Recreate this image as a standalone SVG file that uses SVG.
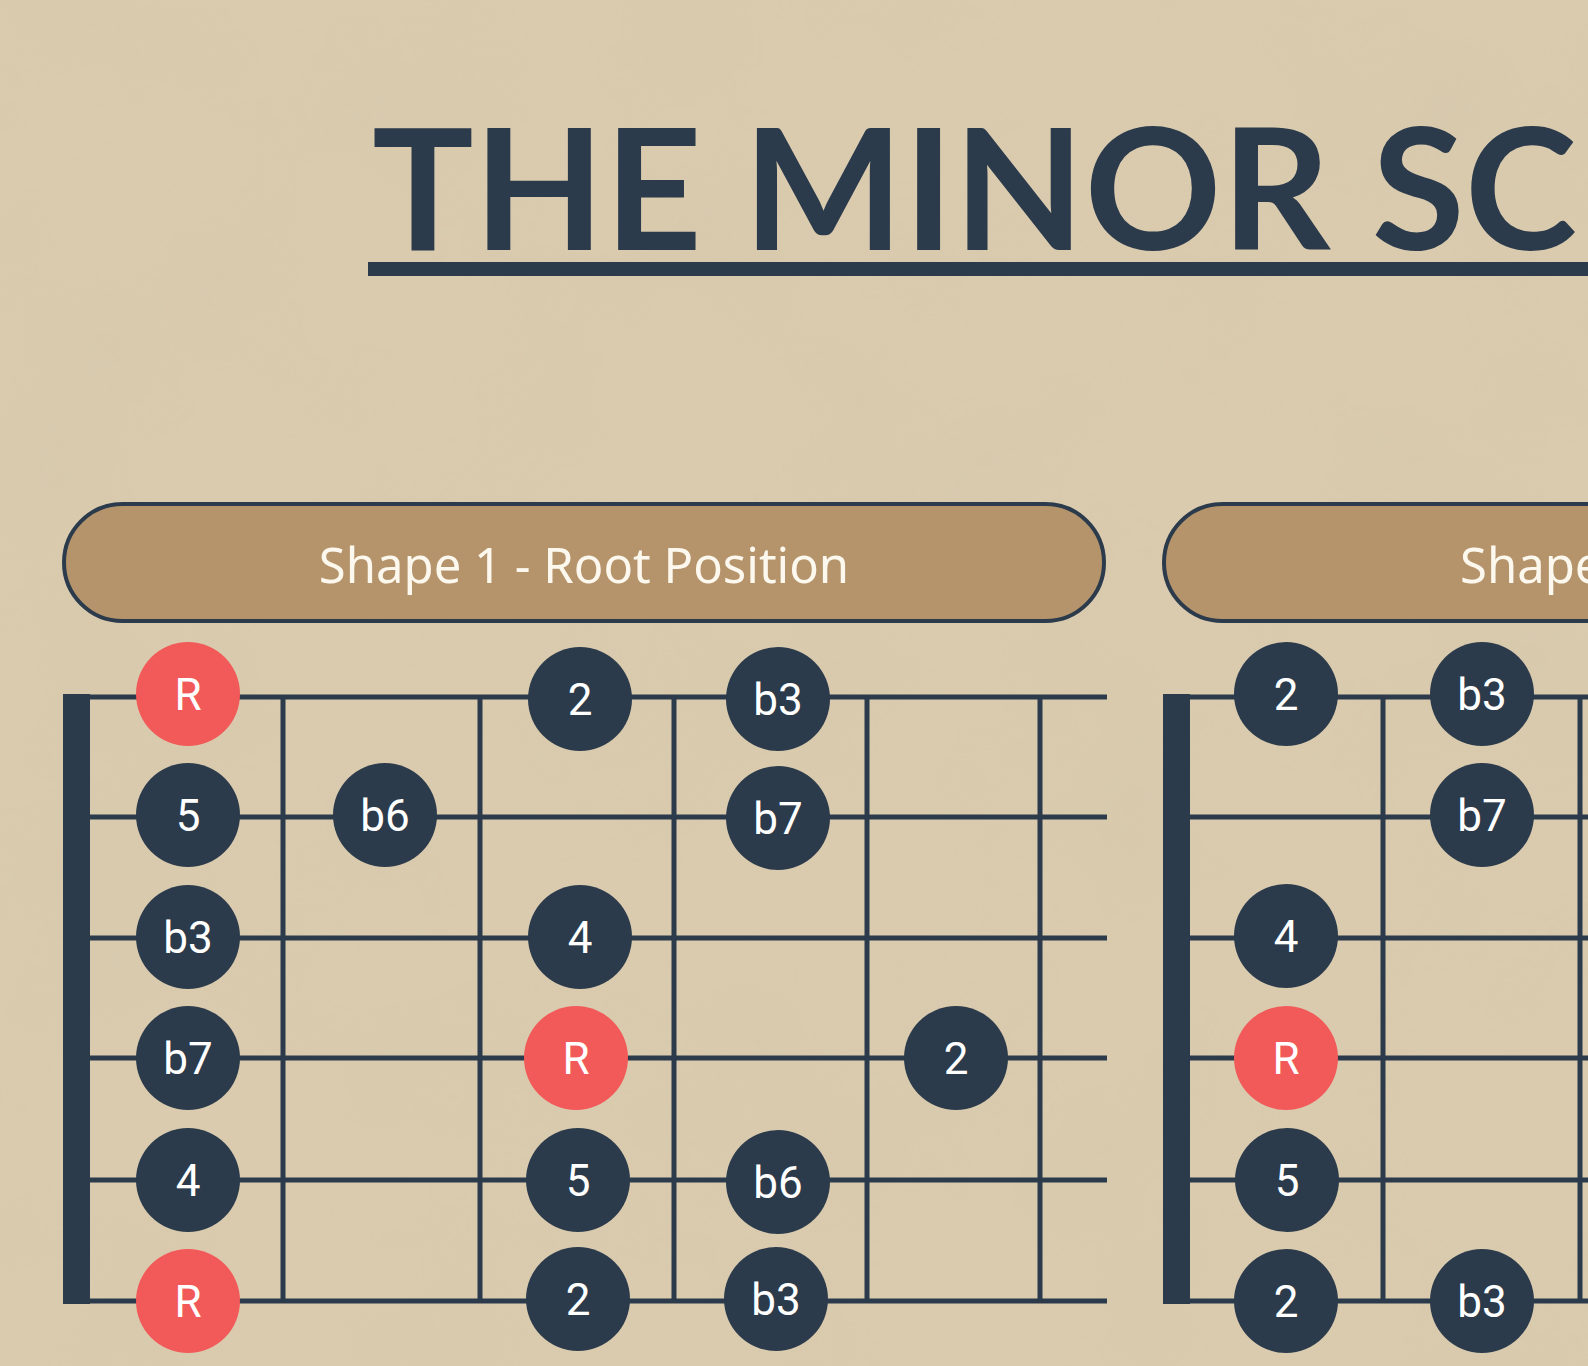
<svg xmlns="http://www.w3.org/2000/svg" width="1588" height="1366" viewBox="0 0 1588 1366">
<defs>
<filter id="paper" x="0" y="0" width="100%" height="100%" filterUnits="userSpaceOnUse">
<feTurbulence type="fractalNoise" baseFrequency="0.005" numOctaves="4" seed="7" result="n"/>
<feColorMatrix in="n" type="matrix" values="0 0 0 0 0.62  0 0 0 0 0.54  0 0 0 0 0.40  1.1 0 0 0 -0.45"/>
</filter>
<style>
.title{font-family:Lato,"Open Sans",sans-serif;font-weight:700;font-size:168px;fill:#2b3b4c}
.pill{fill:#b5946b;stroke:#2b3b4c;stroke-width:4}
.pill-text{font-family:"Noto Sans","Open Sans",sans-serif;font-size:49px;fill:#fdf8ee}
.str{stroke:#2b3b4c;stroke-width:5;fill:none}
.nut{fill:#2b3b4c}
.note circle{fill:#2b3b4c}
.note.root circle{fill:#f25a5a}
.note text{font-family:Roboto,"Liberation Sans",sans-serif;font-size:44px;fill:#ffffff;text-anchor:middle}
</style>
</defs>
<rect width="1588" height="1366" fill="#dacbae"/>
<rect width="1588" height="1366" filter="url(#paper)" opacity="0.35"/>

<g id="title">
<text class="title" x="372" y="250" textLength="1205" lengthAdjust="spacingAndGlyphs">THE MINOR SC</text>
<rect x="368" y="262" width="1230" height="14" fill="#2b3b4c"/>
</g>

<g id="header-1">
<rect class="pill" x="64" y="504" width="1040" height="117" rx="58.5"/>
<text class="pill-text" x="584" y="583" text-anchor="middle">Shape 1 - Root Position</text>
</g>
<g id="header-2">
<rect class="pill" x="1164" y="504" width="1040" height="117" rx="58.5"/>
<text class="pill-text" x="1460" y="583">Shape</text>
</g>

<g id="connectors">
<g id="fretboard-1">
<rect class="nut" x="63" y="694" width="27" height="610"/>
<path class="str" d="M90 697H1107M90 817H1107M90 938H1107M90 1058H1107M90 1180H1107M90 1301H1107"/>
<path class="str" d="M283 697V1301M480 697V1301M674 697V1301M867 697V1301M1040 697V1301"/>
</g>
<g id="fretboard-2">
<rect class="nut" x="1163" y="694" width="27" height="610"/>
<path class="str" d="M1190 697H1600M1190 817H1600M1190 938H1600M1190 1058H1600M1190 1180H1600M1190 1301H1600"/>
<path class="str" d="M1383 697V1301M1580 697V1301"/>
</g>
</g>

<g id="shape-1-notes">
<g id="s1-n1" class="note root"><circle cx="188" cy="694" r="52"/><text x="188" y="710">R</text></g>
<g id="s1-n2" class="note"><circle cx="580" cy="699" r="52"/><text x="580" y="715">2</text></g>
<g id="s1-n3" class="note"><circle cx="778" cy="699" r="52"/><text x="778" y="715">b3</text></g>
<g id="s1-n4" class="note"><circle cx="188" cy="815" r="52"/><text x="188" y="831">5</text></g>
<g id="s1-n5" class="note"><circle cx="385" cy="815" r="52"/><text x="385" y="831">b6</text></g>
<g id="s1-n6" class="note"><circle cx="778" cy="818" r="52"/><text x="778" y="834">b7</text></g>
<g id="s1-n7" class="note"><circle cx="188" cy="937" r="52"/><text x="188" y="953">b3</text></g>
<g id="s1-n8" class="note"><circle cx="580" cy="937" r="52"/><text x="580" y="953">4</text></g>
<g id="s1-n9" class="note"><circle cx="188" cy="1058" r="52"/><text x="188" y="1074">b7</text></g>
<g id="s1-n10" class="note root"><circle cx="576" cy="1058" r="52"/><text x="576" y="1074">R</text></g>
<g id="s1-n11" class="note"><circle cx="956" cy="1058" r="52"/><text x="956" y="1074">2</text></g>
<g id="s1-n12" class="note"><circle cx="188" cy="1180" r="52"/><text x="188" y="1196">4</text></g>
<g id="s1-n13" class="note"><circle cx="578" cy="1180" r="52"/><text x="578" y="1196">5</text></g>
<g id="s1-n14" class="note"><circle cx="778" cy="1182" r="52"/><text x="778" y="1198">b6</text></g>
<g id="s1-n15" class="note root"><circle cx="188" cy="1301" r="52"/><text x="188" y="1317">R</text></g>
<g id="s1-n16" class="note"><circle cx="578" cy="1299" r="52"/><text x="578" y="1315">2</text></g>
<g id="s1-n17" class="note"><circle cx="776" cy="1299" r="52"/><text x="776" y="1315">b3</text></g>
</g>

<g id="shape-2-notes">
<g id="s2-n1" class="note"><circle cx="1286" cy="694" r="52"/><text x="1286" y="710">2</text></g>
<g id="s2-n2" class="note"><circle cx="1482" cy="694" r="52"/><text x="1482" y="710">b3</text></g>
<g id="s2-n3" class="note"><circle cx="1482" cy="815" r="52"/><text x="1482" y="831">b7</text></g>
<g id="s2-n4" class="note"><circle cx="1286" cy="936" r="52"/><text x="1286" y="952">4</text></g>
<g id="s2-n5" class="note root"><circle cx="1286" cy="1058" r="52"/><text x="1286" y="1074">R</text></g>
<g id="s2-n6" class="note"><circle cx="1287" cy="1180" r="52"/><text x="1287" y="1196">5</text></g>
<g id="s2-n7" class="note"><circle cx="1286" cy="1301" r="52"/><text x="1286" y="1317">2</text></g>
<g id="s2-n8" class="note"><circle cx="1482" cy="1301" r="52"/><text x="1482" y="1317">b3</text></g>
</g>
</svg>
